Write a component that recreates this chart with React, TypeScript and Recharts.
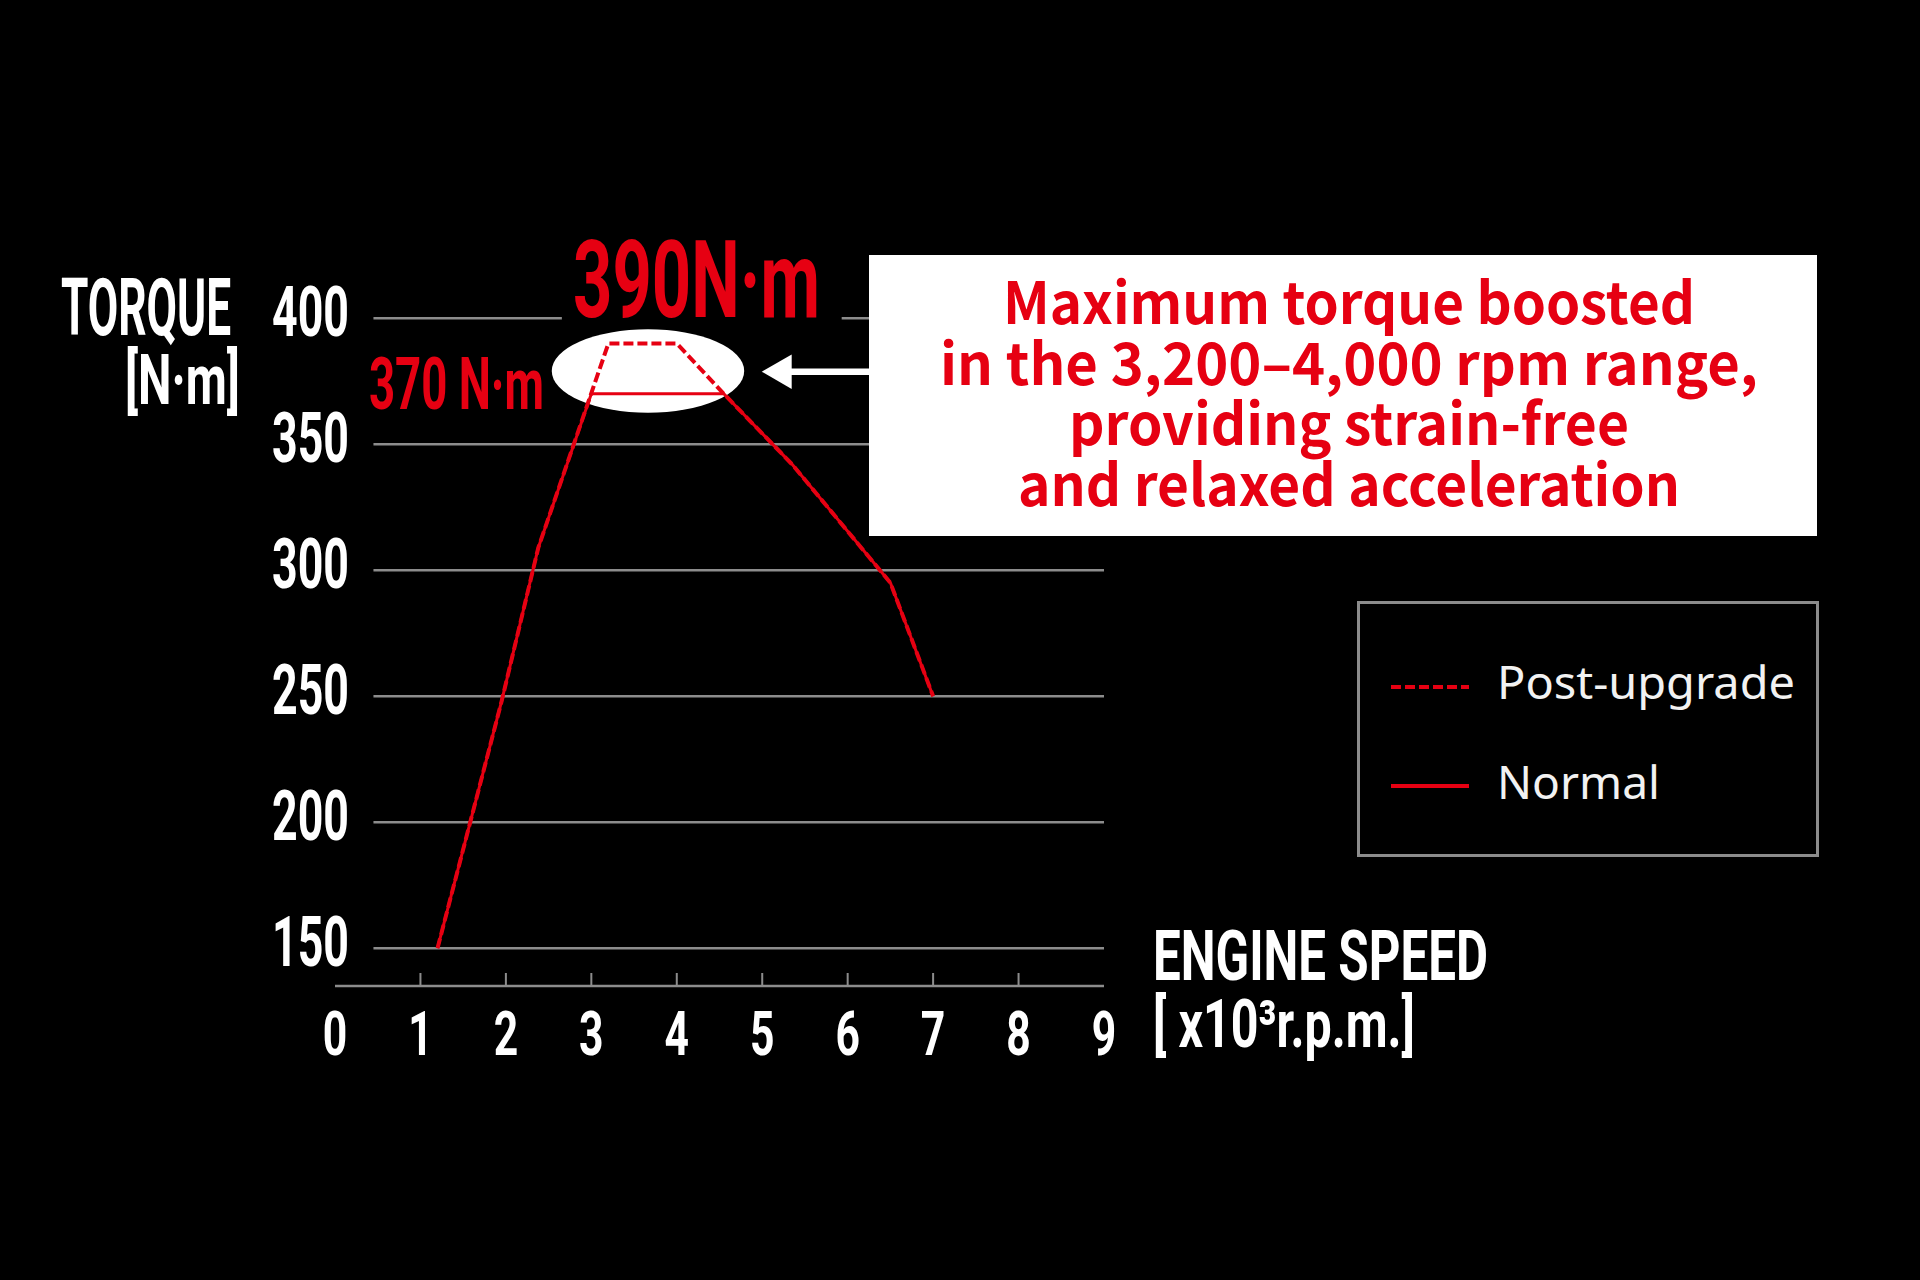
import React from 'react';
import { LineChart, Line, XAxis, YAxis, ReferenceLine, ReferenceArea, Legend } from 'recharts';

// engine speed in x1000 rpm, torque in N·m
const normalRpm = [1.2, 1.95, 2.38, 3.0, 4.55, 5.35, 6.5, 7.0];
const normalTorque = [150, 248, 309, 370, 370, 342, 295, 250];
const upgradeRpm = [1.2, 1.95, 2.38, 3.2, 4.0, 4.55, 5.35, 6.5, 7.0];
const upgradeTorque = [150, 248, 309, 390, 390, 370, 342, 295, 250];

const rpmTicks = [0, 1, 2, 3, 4, 5, 6, 7, 8, 9];
const torqueTicks = [150, 200, 250, 300, 350, 400];

const seriesNames = ['Post-upgrade', 'Normal'];
const legendTextWidths = [298, 163];

const calloutLines = [
    'Maximum torque boosted',
    'in the 3,200–4,000 rpm range,',
    'providing strain-free',
    'and relaxed acceleration',
];

const normalData = normalRpm.map((rpm, i) => ({ rpm, torque: normalTorque[i] }));
const upgradeData = upgradeRpm.map((rpm, i) => ({ rpm, torque: upgradeTorque[i] }));

const RED = '#e60012';
const GRID = '#8c8c8c';
const COND = 'Roboto, "DejaVu Sans Condensed", sans-serif';

const YTick = (props: any) => {
    const { x, y, payload } = props;
    return (
        <text x={x + 14 - 77} y={y + 18} fill="#fff" fontFamily={COND} fontWeight={700} fontSize={70}
            textLength={77} lengthAdjust="spacingAndGlyphs">
            {payload.value}
        </text>
    );
};

const XTick = (props: any) => {
    const { x, y, payload } = props;
    const v = payload.value;
    return (
        <g>
            {v > 0 && v < 9 && <line x1={x} x2={x} y1={y - 13} y2={y} stroke={GRID} strokeWidth={2} />}
            <text transform={`translate(${x},${y + 69}) scale(0.7,1)`} textAnchor="middle" fill="#fff"
                fontFamily={COND} fontWeight={700} fontSize={61}>
                {v}
            </text>
        </g>
    );
};

const LegendBox = (props: any) => {
    const items = [...(props.payload || [])].sort(
        (a: any, b: any) => seriesNames.indexOf(a.value) - seriesNames.indexOf(b.value));
    return (
        <svg width={462} height={256}>
            <rect x={1.5} y={1.5} width={459} height={253} fill="#000" stroke={GRID} strokeWidth={3} />
            {items.map((item: any, i: number) => (
                <g key={item.value}>
                    <line x1={34} x2={112} y1={86 + i * 99} y2={86 + i * 99} stroke={item.color}
                        strokeWidth={4} strokeDasharray={item.payload?.strokeDasharray} />
                    <text x={140} y={98 + i * 100} fill="#f2f2f2" fontFamily='"Noto Sans", sans-serif'
                        fontSize={46} textLength={legendTextWidths[seriesNames.indexOf(item.value)]}
                        lengthAdjust="spacingAndGlyphs">
                        {item.value}
                    </text>
                </g>
            ))}
        </svg>
    );
};

const Ellipse = (props: any) => {
    const { x, y, width, height } = props;
    return <ellipse cx={x + width / 2} cy={y + height / 2} rx={width / 2} ry={height / 2} fill="#fff" />;
};

const Label = ({ x, y, w, size, color = '#fff', children }: any) => (
    <text x={x} y={y} fill={color} fontFamily={COND} fontWeight={700} fontSize={size}
        textLength={w} lengthAdjust="spacingAndGlyphs">
        {children}
    </text>
);

const App: React.FC = () => {
    return (
        <div style={{ position: 'absolute', left: 0, top: 0, width: 1920, height: 1280, background: '#000', overflow: 'hidden' }}>
            <LineChart width={1920} height={1280} margin={{ top: 293, right: 816, bottom: 293, left: 334 }}>
                <XAxis type="number" dataKey="rpm" domain={[0, 9]} ticks={rpmTicks} height={1}
                    axisLine={{ stroke: GRID, strokeWidth: 2.5 }} tickLine={false} tickSize={0} tickMargin={0}
                    tick={<XTick />} interval={0} />
                <YAxis type="number" domain={[135, 410]} ticks={torqueTicks} width={1}
                    axisLine={false} tickLine={false} tickSize={0} tickMargin={0} tick={<YTick />} interval={0} />
                {torqueTicks.filter(t => t !== 400).map(t => (
                    <ReferenceLine key={t} segment={[{ x: 0.45, y: t }, { x: 9, y: t }]} stroke={GRID} strokeWidth={2.5} />
                ))}
                <ReferenceLine segment={[{ x: 0.45, y: 400 }, { x: 2.655, y: 400 }]} stroke={GRID} strokeWidth={2.5} />
                <ReferenceLine segment={[{ x: 5.93, y: 400 }, { x: 9, y: 400 }]} stroke={GRID} strokeWidth={2.5} />
                <ReferenceArea x1={2.537} x2={4.789} y1={362.5} y2={395.6} shape={<Ellipse />} />
                <Line data={upgradeData} dataKey="torque" name={seriesNames[0]} type="linear" stroke={RED}
                    strokeWidth={4} strokeDasharray="10 4" dot={false} isAnimationActive={false} />
                <Line data={normalData} dataKey="torque" name={seriesNames[1]} type="linear" stroke={RED}
                    strokeWidth={3} dot={false} isAnimationActive={false} />
                <Legend layout="vertical" align="center" verticalAlign="middle" content={<LegendBox />}
                    wrapperStyle={{ position: 'absolute', left: 1357, top: 601, width: 462, height: 256 }} />
            </LineChart>
            <svg width={1920} height={1280} style={{ position: 'absolute', left: 0, top: 0, pointerEvents: 'none' }}>
                <Label x={61} y={335} w={170} size={80}>TORQUE</Label>
                <Label x={125} y={404} w={115} size={70}>[N·m]</Label>
                <Label x={369} y={409} w={175} size={72} color={RED}>370 N·m</Label>
                <Label x={573} y={317} w={247} size={108} color={RED}>390N·m</Label>
                <Label x={1153} y={980} w={335} size={70}>ENGINE SPEED</Label>
                <Label x={1153} y={1047} w={262} size={66}>[ x10³r.p.m.]</Label>
                <polygon points="761.7,371.7 791.7,354.5 791.7,388.9" fill="#fff" />
                <rect x={790} y={368.5} width={80} height={6.5} fill="#fff" />
                <rect x={869} y={255} width={948} height={281} fill="#fff" />
                {calloutLines.map((line, i) => (
                    <text key={line} x={1349} y={324 + i * 60.5} textAnchor="middle" fill={RED}
                        fontFamily='"Noto Sans CJK JP", "Noto Sans", sans-serif' fontWeight={700} fontSize={58}
                        textLength={[692, 818, 560, 662][i]} lengthAdjust="spacingAndGlyphs">
                        {line}
                    </text>
                ))}
            </svg>
        </div>
    );
};

export default App;
